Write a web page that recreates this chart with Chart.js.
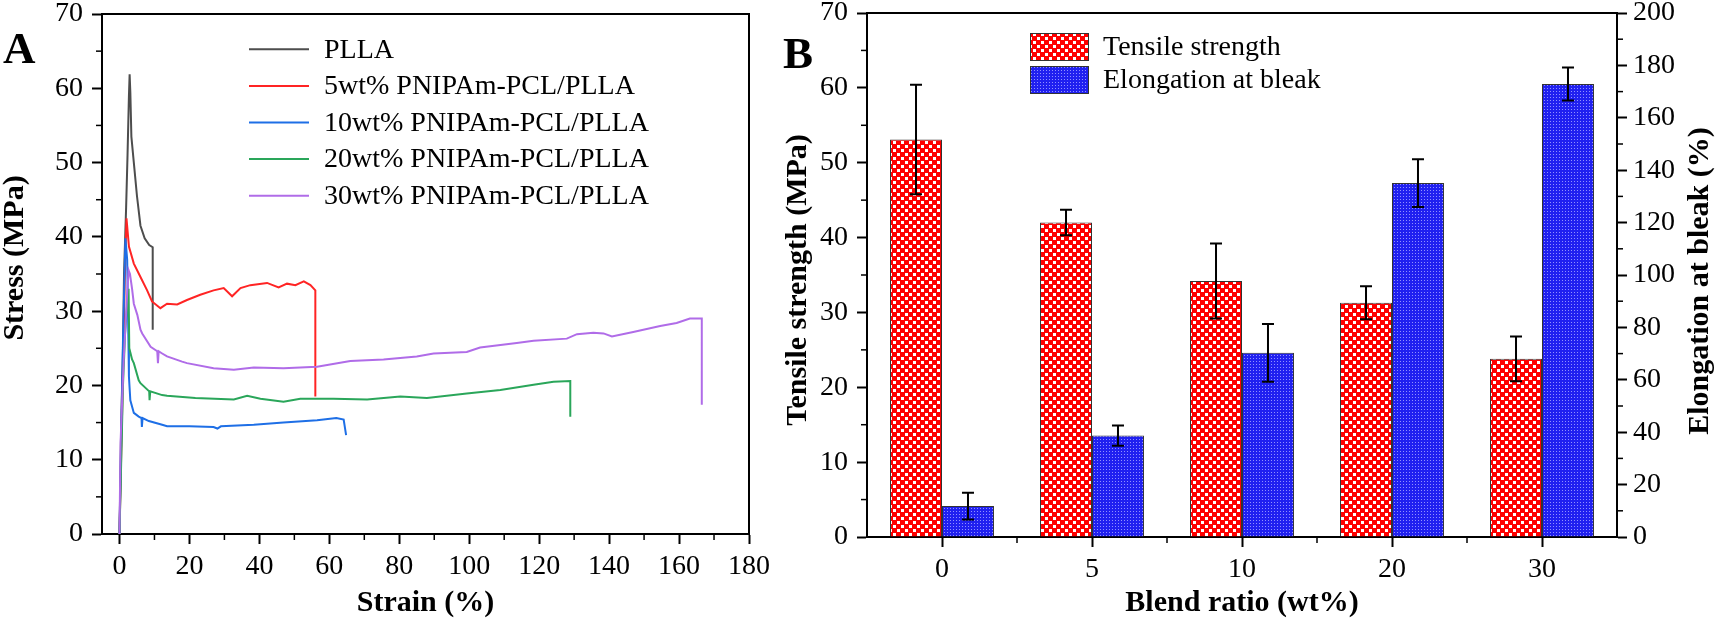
<!DOCTYPE html>
<html>
<head>
<meta charset="utf-8">
<title>Tensile properties</title>
<script src="https://cdn.jsdelivr.net/npm/chart.js@4.4.1/dist/chart.umd.min.js"></script>
<style>
  html, body { margin: 0; padding: 0; background: #fff; }
  #wrap { position: relative; width: 1717px; height: 622px; overflow: hidden; }
  #chartA { position: absolute; left: 0; top: 0; }
  #chartB { position: absolute; left: 760px; top: 0; }
</style>
</head>
<body>
<div id="wrap">
  <canvas id="chartA" width="790" height="622"></canvas>
  <canvas id="chartB" width="957" height="622"></canvas>
</div>
<script>
// ---- panel A: stress-strain curves ----
const pllaStrain = [0, 0.5, 1.0, 1.3, 1.9, 2.3, 2.7, 2.9, 3.1, 3.4, 4.1, 5.0, 6.0, 7.2, 8.5, 9.5, 9.5];
const pllaStress = [0, 15, 25, 35, 44, 51, 59, 61.9, 59.5, 53.5, 50, 45.5, 41.5, 39.8, 38.9, 38.6, 27.5];

const pcl5Strain = [0, 0.5, 1.0, 1.5, 2.0, 2.7, 4.1, 6.0, 7.9, 9.3, 11.7, 13.6, 16.5, 19.3, 23.1, 26.9, 29.8, 32.2, 34.6, 37.4, 42.2, 45.5, 47.9, 50.3, 52.7, 54.6, 56.0, 56.0];
const pcl5Stress = [0, 11, 22, 34, 42.5, 38.7, 36.4, 34.6, 32.8, 31.3, 30.4, 31.0, 30.9, 31.5, 32.2, 32.8, 33.1, 32.0, 33.1, 33.5, 33.8, 33.2, 33.7, 33.5, 34.0, 33.5, 32.8, 18.5];

const pcl10Strain = [0, 0.5, 1.0, 1.7, 2.2, 2.5, 2.7, 3.1, 4.1, 5.5, 6.3, 6.4, 6.6, 8.4, 12.2, 13.6, 20, 26.9, 28, 29, 38.4, 46.9, 56.5, 62, 64.1, 64.8];
const pcl10Stress = [0, 13, 26, 39.8, 36.9, 27.9, 21.2, 18.0, 16.3, 15.8, 15.6, 14.4, 15.6, 15.2, 14.7, 14.5, 14.5, 14.4, 14.2, 14.5, 14.7, 15.0, 15.3, 15.6, 15.4, 13.3];

const pcl20Strain = [0, 0.5, 1.0, 1.6, 2.2, 2.6, 2.8, 3.6, 4.1, 5.5, 6.0, 8.5, 8.6, 8.8, 12.2, 13.6, 21.7, 32.7, 36.5, 40.3, 46.9, 51.7, 61.2, 70.8, 80.3, 87.9, 99.3, 108.9, 118.4, 124.1, 128.9, 128.9];
const pcl20Stress = [0, 10, 20, 27, 31, 33, 25, 23.5, 23.0, 20.7, 20.3, 19.2, 18.0, 19.2, 18.7, 18.6, 18.3, 18.1, 18.6, 18.2, 17.8, 18.2, 18.2, 18.1, 18.5, 18.3, 18.9, 19.4, 20.1, 20.5, 20.6, 15.8];

const pcl30Strain = [0, 0.3, 1.2, 2.2, 2.6, 3.0, 3.6, 4.1, 5.1, 6.0, 6.5, 8.9, 10.8, 11.0, 11.2, 12.2, 13.6, 17.9, 19.3, 26.9, 32.7, 38.4, 46.9, 56.5, 66, 75.5, 85, 89.8, 99.3, 103.1, 113.6, 118.4, 127.9, 130.8, 135.5, 138.4, 140.8, 146.9, 154.6, 159.3, 163.1, 166.5, 166.5];
const pcl30Stress = [0, 12.2, 23.4, 32.4, 35.5, 35, 33, 31, 29.5, 27.5, 27.0, 25.2, 24.6, 23.0, 24.6, 24.3, 23.9, 23.2, 23.0, 22.3, 22.1, 22.4, 22.3, 22.5, 23.3, 23.5, 23.9, 24.3, 24.5, 25.1, 25.7, 26.0, 26.3, 26.9, 27.1, 27.0, 26.6, 27.2, 28.0, 28.4, 29.0, 29.0, 17.4];

const seriesLabels = ['PLLA', '5wt% PNIPAm-PCL/PLLA', '10wt% PNIPAm-PCL/PLLA', '20wt% PNIPAm-PCL/PLLA', '30wt% PNIPAm-PCL/PLLA'];

const strainTicks = [0, 20, 40, 60, 80, 100, 120, 140, 160, 180];
const strainMinor = [10, 30, 50, 70, 90, 110, 130, 150, 170];
const stressTicks = [0, 10, 20, 30, 40, 50, 60, 70];
const stressMinor = [5, 15, 25, 35, 45, 55, 65];

// ---- panel B: bars ----
const blendRatio = ['0', '5', '10', '20', '30'];
const tensileStrength = [53.1, 42.0, 34.2, 31.3, 23.8];
const tensileErr = [7.3, 1.7, 5.0, 2.2, 3.0];
const elongation = [11.8, 38.7, 70.3, 135.1, 172.9];
const elongationErr = [5.1, 3.9, 11.0, 9.1, 6.3];

const tensileTicks = [0, 10, 20, 30, 40, 50, 60, 70];
const tensileMinor = [5, 15, 25, 35, 45, 55, 65];
const elongTicks = [0, 20, 40, 60, 80, 100, 120, 140, 160, 180, 200];
const elongMinor = [10, 30, 50, 70, 90, 110, 130, 150, 170, 190];

const lineColors = ['#4d4d4d', '#ff2424', '#1e6fe6', '#2aa65a', '#b06ce8'];
const serif = "'Liberation Serif', 'Times New Roman', serif";

Chart.defaults.font.family = serif;
Chart.defaults.color = '#000';

function makePattern(size, draw) {
  const c = document.createElement('canvas');
  c.width = size; c.height = size;
  const g = c.getContext('2d');
  draw(g);
  return g.createPattern(c, 'repeat');
}

const redPattern = makePattern(8, g => {
  g.fillStyle = '#ff0000'; g.fillRect(0, 0, 8, 8);
  g.fillStyle = '#ffffff'; g.fillRect(1, 1, 3, 3); g.fillRect(5, 5, 3, 3);
});
const bluePattern = makePattern(3, g => {
  g.fillStyle = '#2020f0'; g.fillRect(0, 0, 3, 3);
  g.fillStyle = '#9090ff'; g.fillRect(1, 1, 1, 1);
});

// frame, minor ticks, rotated titles, panel letters, legends
function framePlugin(cfg) {
  return {
    id: 'frame',
    afterDraw(chart) {
      const ctx = chart.ctx;
      const a = chart.chartArea;
      ctx.save();
      ctx.strokeStyle = '#000';
      ctx.lineWidth = 2;
      ctx.beginPath();
      ctx.moveTo(a.left - 1, a.top);
      ctx.lineTo(a.right + 1, a.top);
      if (cfg.rightBorder) {
        ctx.moveTo(a.right, a.top);
        ctx.lineTo(a.right, a.bottom);
      }
      ctx.stroke();

      ctx.lineWidth = 1.5;
      (cfg.minor || []).forEach(m => {
        const s = chart.scales[m.axis];
        m.values.forEach(v => {
          const p = s.getPixelForValue(v);
          ctx.beginPath();
          if (m.side === 'bottom') { ctx.moveTo(p, a.bottom); ctx.lineTo(p, a.bottom + 6); }
          if (m.side === 'left') { ctx.moveTo(a.left, p); ctx.lineTo(a.left - 6, p); }
          if (m.side === 'right') { ctx.moveTo(a.right, p); ctx.lineTo(a.right + 6, p); }
          ctx.stroke();
        });
      });

      ctx.fillStyle = '#000';
      (cfg.vtitles || []).forEach(t => {
        ctx.save();
        ctx.translate(t.x, t.y);
        ctx.rotate(-Math.PI / 2);
        ctx.font = 'bold 30px ' + serif;
        ctx.textAlign = 'center';
        ctx.textBaseline = 'middle';
        ctx.fillText(t.text, 0, 0);
        ctx.restore();
      });

      if (cfg.letter) {
        ctx.font = 'bold 45px ' + serif;
        ctx.textAlign = 'left';
        ctx.textBaseline = 'alphabetic';
        ctx.fillText(cfg.letter.text, cfg.letter.x, cfg.letter.y);
      }

      ctx.font = '28px ' + serif;
      ctx.textAlign = 'left';
      ctx.textBaseline = 'middle';
      if (cfg.lineLegend) {
        const L = cfg.lineLegend;
        chart.data.datasets.forEach((ds, i) => {
          const y = L.y + i * L.dy;
          ctx.strokeStyle = ds.borderColor;
          ctx.lineWidth = 2;
          ctx.beginPath();
          ctx.moveTo(L.x, y); ctx.lineTo(L.x + L.len, y);
          ctx.stroke();
          ctx.fillText(ds.label, L.x + L.len + L.gap, y + 1);
        });
      }
      if (cfg.boxLegend) {
        const L = cfg.boxLegend;
        chart.data.datasets.forEach((ds, i) => {
          const y = L.y + i * L.dy;
          ctx.fillStyle = ds.backgroundColor;
          ctx.fillRect(L.x, y, L.w, L.h);
          ctx.strokeStyle = '#333';
          ctx.lineWidth = 1;
          ctx.strokeRect(L.x + 0.5, y + 0.5, L.w, L.h);
          ctx.fillStyle = '#000';
          ctx.fillText(ds.label, L.x + L.w + L.gap, y + L.h / 2 + 1);
        });
      }
      ctx.restore();
    }
  };
}

const errorBars = {
  id: 'errorBars',
  afterDatasetsDraw(chart) {
    const ctx = chart.ctx;
    ctx.save();
    ctx.strokeStyle = '#000';
    ctx.lineWidth = 2;
    chart.data.datasets.forEach((ds, i) => {
      const meta = chart.getDatasetMeta(i);
      const ys = chart.scales[ds.yAxisID];
      meta.data.forEach((bar, j) => {
        const v = ds.data[j], e = ds.errors[j];
        const yt = ys.getPixelForValue(v + e);
        const yb = ys.getPixelForValue(v - e);
        ctx.beginPath();
        ctx.moveTo(bar.x, yt); ctx.lineTo(bar.x, yb);
        ctx.moveTo(bar.x - 6, yt); ctx.lineTo(bar.x + 6, yt);
        ctx.moveTo(bar.x - 6, yb); ctx.lineTo(bar.x + 6, yb);
        ctx.stroke();
      });
    });
    ctx.restore();
  }
};

const tickGrid = { drawOnChartArea: false, drawTicks: true, tickLength: 10, color: '#000', tickWidth: 2 };
const axisBorder = { display: true, color: '#000', width: 2 };
const tickFont = { size: 28, lineHeight: 1.2 };
const titleFont = { size: 30, weight: 'bold', lineHeight: 1 };

function fixed(ticks) {
  return s => { s.ticks = ticks.map(v => ({ value: v })); };
}

// ---- chart A ----
const strainSets = [pllaStrain, pcl5Strain, pcl10Strain, pcl20Strain, pcl30Strain];
const stressSets = [pllaStress, pcl5Stress, pcl10Stress, pcl20Stress, pcl30Stress];

new Chart(document.getElementById('chartA'), {
  type: 'line',
  data: {
    datasets: seriesLabels.map((label, i) => ({
      label: label,
      data: strainSets[i].map((x, k) => ({ x: x, y: stressSets[i][k] })),
      borderColor: lineColors[i],
      borderWidth: 2,
      pointRadius: 0,
      tension: 0,
      fill: false,
      order: 5 - i
    }))
  },
  options: {
    responsive: false,
    animation: false,
    layout: { padding: { left: 0, right: 41, top: 14, bottom: 0 } },
    plugins: { legend: { display: false }, tooltip: { enabled: false } },
    scales: {
      x: {
        type: 'linear', min: -5, max: 180,
        afterBuildTicks: fixed(strainTicks),
        afterFit: s => { s.height = 88; s.paddingLeft = 0; s.paddingRight = 0; },
        grid: tickGrid, border: axisBorder,
        ticks: { font: tickFont, padding: 6, maxRotation: 0, autoSkip: false },
        title: { display: true, text: 'Strain (%)', font: titleFont, padding: { top: 0, bottom: 4 } }
      },
      y: {
        type: 'linear', min: 0, max: 70,
        afterBuildTicks: fixed(stressTicks),
        afterFit: s => { s.width = 102; s.paddingTop = 0; s.paddingBottom = 0; },
        grid: tickGrid, border: axisBorder,
        ticks: { font: tickFont, padding: 9, autoSkip: false }
      }
    }
  },
  plugins: [framePlugin({
    rightBorder: true,
    minor: [
      { axis: 'x', side: 'bottom', values: strainMinor },
      { axis: 'y', side: 'left', values: stressMinor }
    ],
    vtitles: [{ text: 'Stress (MPa)', x: 15, y: 258 }],
    letter: { text: 'A', x: 3, y: 63 },
    lineLegend: { x: 249, y: 49.3, dy: 36.6, len: 60, gap: 15 }
  })]
});

// ---- chart B ----
new Chart(document.getElementById('chartB'), {
  type: 'bar',
  data: {
    labels: blendRatio,
    datasets: [
      {
        label: 'Tensile strength', data: tensileStrength, errors: tensileErr, yAxisID: 'y',
        backgroundColor: redPattern, borderColor: '#333', borderWidth: 1,
        categoryPercentage: 0.693, barPercentage: 1
      },
      {
        label: 'Elongation at bleak', data: elongation, errors: elongationErr, yAxisID: 'y2',
        backgroundColor: bluePattern, borderColor: '#333', borderWidth: 1,
        categoryPercentage: 0.693, barPercentage: 1
      }
    ]
  },
  options: {
    responsive: false,
    animation: false,
    layout: { padding: { left: 0, right: 0, top: 13, bottom: 0 } },
    plugins: { legend: { display: false }, tooltip: { enabled: false } },
    scales: {
      x: {
        type: 'category', offset: true,
        afterFit: s => { s.height = 85; s.paddingLeft = 0; s.paddingRight = 0; },
        grid: Object.assign({}, tickGrid, { offset: false }), border: axisBorder,
        ticks: { font: tickFont, padding: 6, maxRotation: 0, autoSkip: false },
        title: { display: true, text: 'Blend ratio (wt%)', font: titleFont, padding: { top: 0, bottom: 4 } }
      },
      y: {
        type: 'linear', position: 'left', min: 0, max: 70,
        afterBuildTicks: fixed(tensileTicks),
        afterFit: s => { s.width = 107; s.paddingTop = 0; s.paddingBottom = 0; },
        grid: tickGrid, border: axisBorder,
        ticks: { font: tickFont, padding: 9, autoSkip: false }
      },
      y2: {
        type: 'linear', position: 'right', min: 0, max: 200,
        afterBuildTicks: fixed(elongTicks),
        afterFit: s => { s.width = 100; s.paddingTop = 0; s.paddingBottom = 0; },
        grid: tickGrid, border: axisBorder,
        ticks: { font: tickFont, padding: 6, autoSkip: false }
      }
    }
  },
  plugins: [errorBars, framePlugin({
    rightBorder: false,
    minor: [
      { axis: 'x', side: 'bottom', values: blendRatio.slice(1).map((_, i) => i + 0.5) },
      { axis: 'y', side: 'left', values: tensileMinor },
      { axis: 'y2', side: 'right', values: elongMinor }
    ],
    vtitles: [
      { text: 'Tensile strength (MPa)', x: 38, y: 280 },
      { text: 'Elongation at bleak (%)', x: 940, y: 281 }
    ],
    letter: { text: 'B', x: 23, y: 68 },
    boxLegend: { x: 270, y: 33, dy: 33, w: 58, h: 27, gap: 15 }
  })]
});
</script>
</body>
</html>
